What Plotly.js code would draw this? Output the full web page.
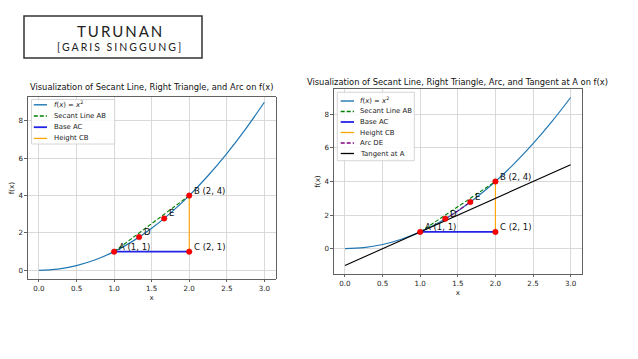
<!DOCTYPE html>
<html>
<head>
<meta charset="utf-8">
<script src="https://cdn.plot.ly/plotly-3.0.1.min.js"></script>
<style>
  html, body { margin: 0; padding: 0; background: #ffffff; }
  #chart { width: 638px; height: 359px; }
</style>
</head>
<body>
<div id="chart"></div>
<script>
// ---------------- data ----------------
const headerTitle = 'TURUNAN';
const headerSubtitle = '[GARIS SINGGUNG]';
const leftTitle = 'Visualization of Secant Line, Right Triangle, and Arc on f(x)';
const rightTitle = 'Visualization of Secant Line, Right Triangle, Arc, and Tangent at A on f(x)';
const xAxisLabel = 'x';
const yAxisLabel = 'f(x)';

const curveX = [0, 0.25, 0.5, 0.75, 1, 1.25, 1.5, 1.75, 2, 2.25, 2.5, 2.75, 3];
const curveY = [0, 0.0625, 0.25, 0.5625, 1, 1.5625, 2.25, 3.0625, 4, 5.0625, 6.25, 7.5625, 9];

const secantX = [1, 2];
const secantY = [1, 4];
const baseX = [1, 2];
const baseY = [1, 1];
const heightX = [2, 2];
const heightY = [1, 4];
const arcX = [1.3333, 1.5, 1.6667];
const arcY = [1.7778, 2.25, 2.7778];
const tangentX = [0, 3];
const tangentY = [-1, 5];

const pointX = [1, 2, 2, 1.3333, 1.6667];
const pointY = [1, 4, 1, 1.7778, 2.7778];
const pointLabels = ['A (1, 1)', 'B (2, 4)', 'C (2, 1)', 'D', 'E'];

const seriesNames = ['<i>f</i>(<i>x</i>) = <i>x</i><sup>2</sup>', 'Secant Line AB', 'Base AC', 'Height CB', 'Arc DE', 'Tangent at A'];

const xTickVals = [0, 0.5, 1, 1.5, 2, 2.5, 3];
const xTickText = ['0.0', '0.5', '1.0', '1.5', '2.0', '2.5', '3.0'];
const yTickVals = [0, 2, 4, 6, 8];
const yTickText = ['0', '2', '4', '6', '8'];

// ---------------- helpers ----------------
const W = 638, H = 359;
const PX = v => v / W;
const PY = v => 1 - v / H;
const FONT = 'DejaVu Sans, sans-serif';

const styles = {
  curve:   {color: '#1f77b4', width: 1.2},
  secant:  {color: '#008000', width: 1.1, dash: '4px,2px'},
  base:    {color: '#2323e6', width: 1.6},
  height:  {color: '#ffa500', width: 1.1},
  arc:     {color: '#800080', width: 1.1, dash: '4px,2px'},
  tangent: {color: '#000000', width: 1.1}
};

function line(x, y, name, st, xa, ya) {
  return {type: 'scatter', mode: 'lines', x: x, y: y, name: name, xaxis: xa, yaxis: ya,
          line: Object.assign({}, st), showlegend: false, hoverinfo: 'skip'};
}

function buildPanel(xa, ya, withExtras) {
  const tr = [];
  const c = line(curveX, curveY, seriesNames[0], styles.curve, xa, ya);
  c.line.shape = 'spline';
  tr.push(c);
  tr.push(line(secantX, secantY, seriesNames[1], styles.secant, xa, ya));
  tr.push(line(baseX, baseY, seriesNames[2], styles.base, xa, ya));
  tr.push(line(heightX, heightY, seriesNames[3], styles.height, xa, ya));
  if (withExtras) {
    tr.push(line(arcX, arcY, seriesNames[4], styles.arc, xa, ya));
    tr.push(line(tangentX, tangentY, seriesNames[5], styles.tangent, xa, ya));
  }
  tr.push({type: 'scatter', mode: 'markers', x: pointX, y: pointY, xaxis: xa, yaxis: ya,
           marker: {color: '#ff0000', size: 5.5, line: {color: '#cc0000', width: 0.5}},
           showlegend: false, hoverinfo: 'skip'});
  return tr;
}

const leftTraces = buildPanel('x', 'y', false);
const rightTraces = buildPanel('x2', 'y2', true);
const data = leftTraces.concat(rightTraces);

const axisCommon = {
  showline: true, mirror: true, linecolor: '#3a3a3a', linewidth: 0.8,
  ticks: 'outside', ticklen: 2.5, tickwidth: 0.8, tickcolor: '#3a3a3a',
  showgrid: true, gridcolor: '#d0d0d0', gridwidth: 0.8, zeroline: false,
  tickfont: {family: FONT, size: 7.1, color: '#222'}, fixedrange: true, automargin: false
};
const titleFont = {family: FONT, size: 7.1, color: '#222'};

const layout = {
  width: W, height: H,
  margin: {l: 0, r: 0, t: 0, b: 0},
  paper_bgcolor: '#ffffff', plot_bgcolor: '#ffffff',
  showlegend: false,
  xaxis: Object.assign({}, axisCommon, {domain: [PX(27.7), PX(275.6)], range: [-0.15, 3.15], anchor: 'y',
          tickmode: 'array', tickvals: xTickVals, ticktext: xTickText,
          title: {text: xAxisLabel, font: titleFont, standoff: 2}}),
  yaxis: Object.assign({}, axisCommon, {domain: [PY(278.9), PY(97.2)], range: [-0.46, 9.27], anchor: 'x',
          tickmode: 'array', tickvals: yTickVals, ticktext: yTickText,
          title: {text: yAxisLabel, font: titleFont, standoff: 2}}),
  xaxis2: Object.assign({}, axisCommon, {domain: [PX(333.7), PX(581.9)], range: [-0.15, 3.15], anchor: 'y2',
          tickmode: 'array', tickvals: xTickVals, ticktext: xTickText,
          title: {text: xAxisLabel, font: titleFont, standoff: 2}}),
  yaxis2: Object.assign({}, axisCommon, {domain: [PY(273.9), PY(89.1)], range: [-1.5, 9.5], anchor: 'x2',
          tickmode: 'array', tickvals: yTickVals, ticktext: yTickText,
          title: {text: yAxisLabel, font: titleFont, standoff: 2}}),
  shapes: [],
  annotations: []
};

// header box
layout.shapes.push({type: 'rect', xref: 'paper', yref: 'paper',
  x0: PX(24), x1: PX(202), y0: PY(58), y1: PY(16),
  line: {color: '#333333', width: 1.5}, fillcolor: 'rgba(0,0,0,0)'});
layout.annotations.push({xref: 'paper', yref: 'paper', x: PX(120), y: PY(30.5), xanchor: 'center', yanchor: 'middle',
  text: headerTitle, showarrow: false, font: {family: 'Lato, Open Sans, sans-serif', size: 15, color: '#222'}});
layout.annotations.push({xref: 'paper', yref: 'paper', x: PX(120), y: PY(47.3), xanchor: 'center', yanchor: 'middle',
  text: headerSubtitle, showarrow: false, font: {family: 'Lato, Open Sans, sans-serif', size: 10.5, color: '#222'}});

// panel titles
layout.annotations.push({xref: 'paper', yref: 'paper', x: PX(151.6), y: PY(86.7), xanchor: 'center', yanchor: 'middle',
  text: leftTitle, showarrow: false, font: {family: FONT, size: 8.3, color: '#111'}});
layout.annotations.push({xref: 'paper', yref: 'paper', x: PX(457.8), y: PY(82.3), xanchor: 'center', yanchor: 'middle',
  text: rightTitle, showarrow: false, font: {family: FONT, size: 8.3, color: '#111'}});

// point labels
[['x', 'y'], ['x2', 'y2']].forEach(ax => {
  pointLabels.forEach((t, i) => {
    layout.annotations.push({xref: ax[0], yref: ax[1], x: pointX[i], y: pointY[i], xanchor: 'left', yanchor: 'middle',
      xshift: 3, yshift: 5, text: t, showarrow: false, font: {family: FONT, size: 8.5, color: '#111'}});
  });
});

// custom legends (drawn from the traces' names and styles)
function drawLegend(traces, box) {
  layout.shapes.push({type: 'rect', xref: 'paper', yref: 'paper',
    x0: PX(box.x0), x1: PX(box.x1), y0: PY(box.y1), y1: PY(box.y0),
    line: {color: '#cccccc', width: 0.8}, fillcolor: 'rgba(255,255,255,0.85)'});
  traces.filter(t => t.mode === 'lines').forEach((t, i) => {
    const yy = box.row0 + i * box.step;
    layout.shapes.push({type: 'line', xref: 'paper', yref: 'paper',
      x0: PX(box.lx0), x1: PX(box.lx1), y0: PY(yy), y1: PY(yy),
      line: {color: t.line.color, width: t.line.width + 0.2, dash: t.line.dash || 'solid'}});
    layout.annotations.push({xref: 'paper', yref: 'paper', x: PX(box.tx), y: PY(yy), xanchor: 'left', yanchor: 'middle',
      text: t.name, showarrow: false, font: {family: FONT, size: 6.9, color: '#222'}});
  });
}
drawLegend(leftTraces, {x0: 31.5, x1: 114.7, y0: 99.5, y1: 144, row0: 104.8, step: 11.2, lx0: 33.8, lx1: 47, tx: 51.5});
drawLegend(rightTraces, {x0: 337.3, x1: 414.3, y0: 92.3, y1: 160.7, row0: 101, step: 10.5, lx0: 340.7, lx1: 354, tx: 358.3});

Plotly.newPlot('chart', data, layout, {staticPlot: true, displayModeBar: false}).then(() => {
  document.querySelectorAll('.annotation-text').forEach(el => {
    if (el.textContent === headerTitle || el.textContent === headerSubtitle) {
      el.style.letterSpacing = '2px';
    }
  });
});
</script>
</body>
</html>
